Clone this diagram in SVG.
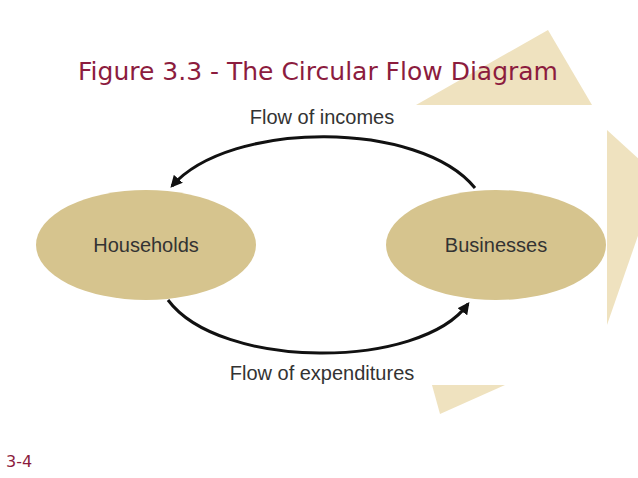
<svg xmlns="http://www.w3.org/2000/svg" width="638" height="478" viewBox="0 0 638 478">
<style>
.tri{fill:#EFE2BF}
.node{fill:#D6C48E}
.lbl{font-family:"Liberation Sans",Arial,sans-serif;font-size:20px;fill:#333;text-anchor:middle}
.red{font-family:"DejaVu Sans",Verdana,sans-serif;fill:#8C1C3E}
.con{fill:none;stroke:#111;stroke-width:3}
</style>
<defs><marker id="ah" viewBox="0 0 10 10" refX="8" refY="5" markerWidth="4" markerHeight="4" orient="auto"><path d="M0,0L10,5L0,10z" fill="#111"/></marker></defs>
<rect width="638" height="478" fill="#fff"/>
<polygon class="tri" points="416,105 592,105 548,30"/>
<polygon class="tri" points="607,130 607,325 640,230 640,160"/>
<polygon class="tri" points="432,385 505,385 440,414"/>
<text class="red" x="318" y="80" font-size="25" text-anchor="middle">Figure 3.3 - The Circular Flow Diagram</text>
<g id="households"><ellipse class="node" cx="146" cy="245" rx="110" ry="55"/><text class="lbl" x="146" y="252">Households</text></g>
<g id="businesses"><ellipse class="node" cx="496" cy="245" rx="110" ry="55"/><text class="lbl" x="496" y="252">Businesses</text></g>
<g id="connectors">
<path class="con" marker-end="url(#ah)" d="M475,188 C420,120 230,120 172,186"/>
<path class="con" marker-end="url(#ah)" d="M168,300 C220,370 420,370 468,304"/>
</g>
<text class="lbl" x="322" y="124">Flow of incomes</text>
<text class="lbl" x="322" y="380">Flow of expenditures</text>
<text class="red" x="6" y="467" font-size="16">3-4</text>
</svg>
